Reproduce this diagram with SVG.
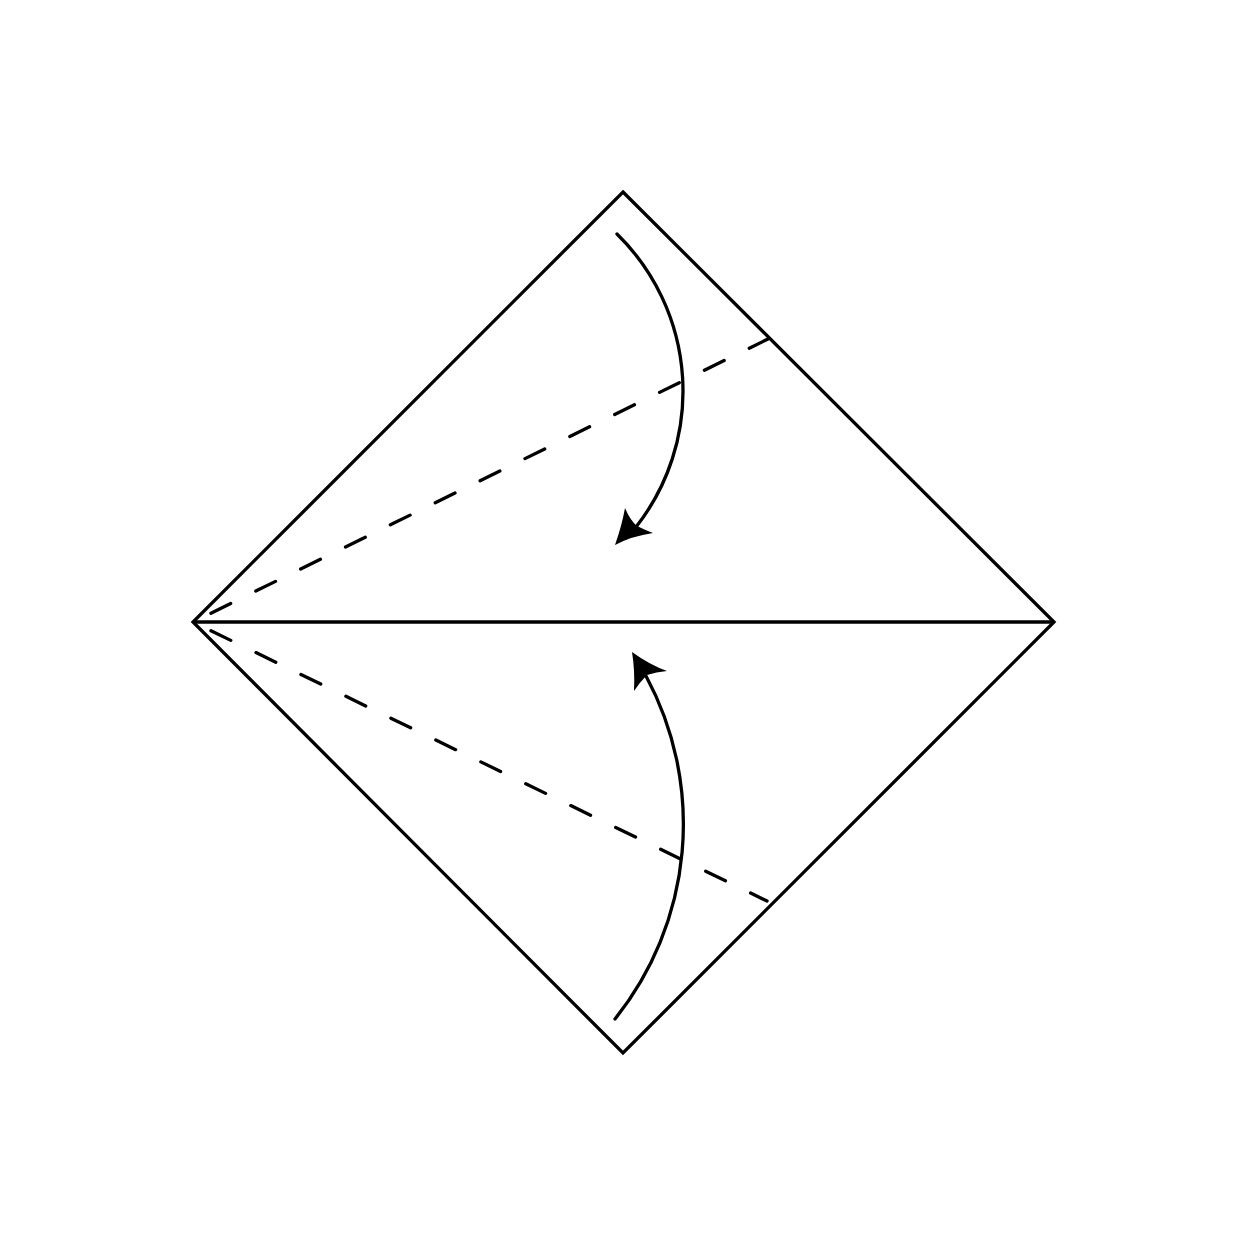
<svg xmlns="http://www.w3.org/2000/svg" width="1250" height="1250" viewBox="0 0 1250 1250">
<style>
.edge{fill:none;stroke:#000;stroke-width:3.3;stroke-linejoin:miter}
.fold{fill:none;stroke:#000;stroke-width:3.3;stroke-linecap:round;stroke-dasharray:22 28;stroke-dashoffset:30}
.arc{fill:none;stroke:#000;stroke-width:3.3;stroke-linecap:round}
.head{fill:#000;stroke:none}
</style>
<rect width="1250" height="1250" fill="#fff"/>
<g id="paper">
<polygon class="edge" points="623,192 1054,622 623,1053 193,622"/>
<line class="edge" x1="193" y1="622" x2="1054" y2="622"/>
</g>
<g id="folds">
<line class="fold" x1="193" y1="622" x2="768" y2="339"/>
<line class="fold" x1="193" y1="622" x2="767" y2="901"/>
</g>
<g id="connectors">
<path class="arc" d="M617,234 A220,220 0 0 1 636,527"/>
<path class="head" d="M615,545 Q622,525 625,508 Q630,520 637,526 Q645,530 653,533 Q632,536 615,545 Z"/>
<path class="arc" d="M615,1019 A312,312 0 0 0 646,676"/>
<path class="head" d="M632,652 Q650,665 667,671 Q656,672 647,675 Q640,682 634,691 Q635,670 632,652 Z"/>
</g>
</svg>
